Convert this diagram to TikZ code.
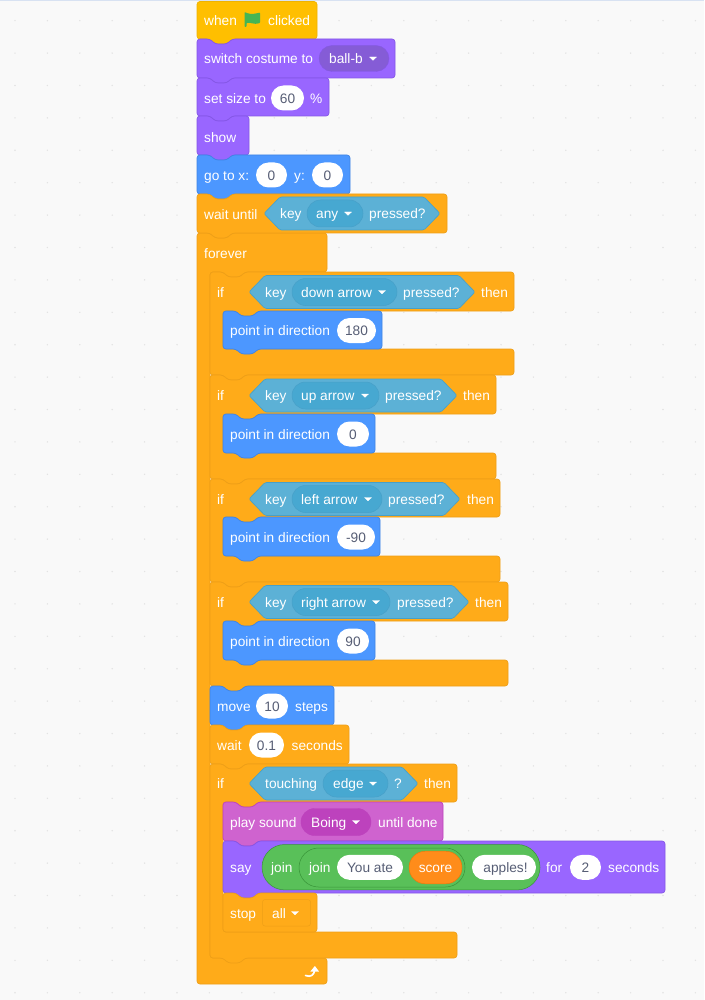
\documentclass[tikz,border=0pt]{standalone}
\usepackage{fontspec}
\setmainfont{Liberation Sans}
\definecolor{bgc}{HTML}{F9F9F9}
\definecolor{dotc}{HTML}{E3E3E3}
\definecolor{topc}{HTML}{D8E2F2}
\definecolor{lookc}{HTML}{9966FF}\definecolor{lookd}{HTML}{8557E6}\definecolor{lookp}{HTML}{855CD6}
\definecolor{motc}{HTML}{4C97FF}\definecolor{motd}{HTML}{3F84E5}
\definecolor{ctlc}{HTML}{FFAB19}\definecolor{ctld}{HTML}{EE9F17}
\definecolor{hatc}{HTML}{FFBF00}\definecolor{hatd}{HTML}{EFB300}
\definecolor{sndc}{HTML}{CF63CF}\definecolor{sndd}{HTML}{BD42BD}
\definecolor{senc}{HTML}{5CB1D6}\definecolor{send}{HTML}{47A0C8}\definecolor{senp}{HTML}{47A8D1}
\definecolor{opc}{HTML}{59C059}\definecolor{opd}{HTML}{389438}
\definecolor{flagc}{HTML}{45B554}
\definecolor{varc}{HTML}{FF8C1A}\definecolor{vard}{HTML}{E87A0C}
\definecolor{inkc}{HTML}{575E75}
\newcounter{tn}
\tikzset{
  x=1pt,y=-1pt,
  blk/.style={draw,line width=.7pt,rounded corners=3pt,line join=round},
  motion/.style={blk,fill=motc,draw=motd},
  looks/.style={blk,fill=lookc,draw=lookd},
  ctrl/.style={blk,fill=ctlc,draw=ctld},
  hatb/.style={blk,fill=hatc,draw=hatd},
  sound/.style={blk,fill=sndc,draw=sndd},
  hexs/.style={draw=send,fill=senc,line width=.6pt,rounded corners=1.5pt},
  txt/.style={inner sep=0pt,text=white,font=\fontsize{13.7}{15}\selectfont},
  itxt/.style={txt,text=inkc},
  whitepill/.style={fill=white,draw=none},
  sensp/.style={fill=senp,draw=send,line width=.5pt},
  arrowtri/.style={fill=white,draw=white,line width=.4pt,line join=round},
}
% label: x, centre y, text
\newcommand\tlabel[3]{\stepcounter{tn}\node[txt,anchor=base west] (t\arabic{tn}) at ({#1},{#2+5.2}) {#3};}
% centred label: x, centre y, style, text
\newcommand\clabel[4]{\stepcounter{tn}\node[#3,anchor=base] (t\arabic{tn}) at ({#1},{#2+5.2}) {#4};}
% stacked block: x1,y1,x2,y2,style
\newcommand\stackb[5]{\draw[#5] (#1,#2) -- ({#1+13},#2) -- ({#1+18},{#2+5}) -- ({#1+30},{#2+5}) -- ({#1+35},#2) -- (#3,#2) -- (#3,#4) -- ({#1+35},#4) -- ({#1+30},{#4+5}) -- ({#1+18},{#4+5}) -- ({#1+13},#4) -- (#1,#4) -- cycle;}
% cap block: no tab under
\newcommand\capb[5]{\draw[#5] (#1,#2) -- ({#1+13},#2) -- ({#1+18},{#2+5}) -- ({#1+30},{#2+5}) -- ({#1+35},#2) -- (#3,#2) -- (#3,#4) -- (#1,#4) -- cycle;}
% C block head and arm and bar with tab: x1,y1,x2,ymouth,ybar,yend,x2 of the bar
\newcommand\cblock[7]{\draw[ctrl] (#1,#2) -- ({#1+13},#2) -- ({#1+18},{#2+5}) -- ({#1+30},{#2+5}) -- ({#1+35},#2) -- (#3,#2) -- (#3,#4)
 -- ({#1+48},#4) -- ({#1+43},{#4+5}) -- ({#1+31},{#4+5}) -- ({#1+26},#4) -- ({#1+13},#4) -- ({#1+13},#5) -- (#7,#5) -- (#7,#6) -- ({#1+35},#6) -- ({#1+30},{#6+5}) -- ({#1+18},{#6+5}) -- ({#1+13},#6) -- (#1,#6) -- cycle;}
% pill: x1,x2,yc,half height,style
\newcommand\pillb[5]{\draw[#5,rounded corners=#4 pt] (#1,{#3-#4}) rectangle (#2,{#3+#4});}
% white input: x1,x2,yc,text
\newcommand\inp[4]{\pillb{#1}{#2}{#3}{12.5}{whitepill}\clabel{(#1+#2)/2}{#3}{itxt}{#4}}
% dropdown triangle
\newcommand\tri[2]{\draw[arrowtri] ({#1-3.5},{#2-1.5}) -- ({#1+3.5},{#2-1.5}) -- (#1,{#2+1.8}) -- cycle;}
% sensing hexagon x1,x2,yc
\newcommand\hexb[3]{\draw[hexs] (#1,#3) -- ({#1+16},{#3-16.5}) -- ({#2-16},{#3-16.5}) -- (#2,#3) -- ({#2-16},{#3+16.5}) -- ({#1+16},{#3+16.5}) -- cycle;}
% key sensing boolean on an if: x2 of hex, yc, pill x2, tri x, menu text, pressed x, then x
\newcommand\keyq[7]{\hexb{249}{#1}{#2}\tlabel{265}{#2}{key}\pillb{292}{#3}{#2}{13.5}{sensp}\tlabel{301}{#2}{#5}\tri{#4}{#2}\tlabel{#6}{#2}{pressed?}\tlabel{#7}{#2}{then}\tlabel{217}{#2}{if}}
% inner point block: x2,y1,y2,pill x2,value
\newcommand\pointb[5]{\stackb{223}{#2}{#1}{#3}{motion}\tlabel{230}{(#2+#3)/2+.5}{point in direction}\inp{337}{#4}{(#2+#3)/2+.5}{#5}}
\begin{document}
\begin{tikzpicture}
\useasboundingbox (0,0) rectangle (704,1000);
\fill[bgc] (0,0) rectangle (704,1000);
\foreach \i in {0,...,21}{\foreach \j in {0,...,30}{
  \fill[dotc] ({15+32.4*\i},{20.7+32.4*\j}) circle (.8);}}
% forever
\draw[ctrl] (197,233) -- (210,233) -- (215,238) -- (227,238) -- (232,233) -- (327,233) -- (327,272) -- (245,272) -- (240,277) -- (228,277) -- (223,272) -- (210,272) -- (210,958) -- (327,958) -- (327,984) -- (197,984) -- cycle;
\tlabel{204}{253}{forever}
\draw[white,line width=1.7pt,line cap=round] (305.5,975.5) .. controls (311,977.5) and (314,975) .. (314.7,970);
\fill[white] (310.3,971.5) -- (314.9,966) -- (319,971.5) -- cycle;
% top stack
\draw[hatb] (197,1.5) -- (317,1.5) -- (317,39) -- (232,39) -- (227,44) -- (215,44) -- (210,39) -- (197,39) -- cycle;
\fill[topc] (0,0) rectangle (704,1.5);
\tlabel{204}{20}{when}
\fill[flagc,rounded corners=.8pt] (244.5,12) .. controls (248,13.5) and (251,15) .. (260,12.5) -- (260,23) .. controls (254,25) and (250,22) .. (246.5,23) -- (246.5,27) -- (244.5,27) -- cycle;
\tlabel{268}{20}{clicked}
\stackb{197}{39}{395}{78}{looks}
\tlabel{204}{58.5}{switch costume to}
\pillb{319}{389}{58.5}{13}{fill=lookp,draw=lookd,line width=.4pt}
\tlabel{329}{58.5}{ball-b}\tri{373}{58.5}
\stackb{197}{78}{329}{116}{looks}
\tlabel{204}{98}{set size to}\inp{271}{304}{98}{60}\tlabel{310}{98}{\%}
\stackb{197}{116}{249}{155}{looks}
\tlabel{204}{137}{show}
\stackb{197}{155}{350}{194}{motion}
\tlabel{204}{175}{go to x:}\inp{256}{287}{175}{0}\tlabel{294}{175}{y:}\inp{312}{343}{175}{0}
\stackb{197}{194}{447}{233}{ctrl}
\tlabel{204}{214}{wait until}
\hexb{264}{440}{213.5}\tlabel{280}{213.5}{key}\pillb{307}{363}{213.5}{13.5}{sensp}\tlabel{316}{213.5}{any}\tri{348}{213.5}\tlabel{369}{213.5}{pressed?}
% if 1
\cblock{210}{272}{514}{311}{349}{375}{514}
\keyq{475}{292}{397}{382}{down arrow}{403}{481}
\pointb{382}{311}{349}{376}{180}
% if 2
\cblock{210}{375}{496}{414}{453}{479}{496}
\keyq{457}{395.5}{379}{365}{up arrow}{385}{463}
\pointb{375}{414}{453}{369}{0}
% if 3
\cblock{210}{479}{500}{517}{556}{582}{500}
\keyq{460}{499}{382}{368}{left arrow}{388}{467}
\pointb{380}{517}{556}{375}{-90}
% if 4
\cblock{210}{582}{508}{621}{660}{686}{508}
\keyq{469}{602}{390}{376}{right arrow}{397}{475}
\pointb{375}{621}{660}{369}{90}
% move, wait
\stackb{210}{686}{334}{725}{motion}
\tlabel{217}{706}{move}\inp{256}{288}{706}{10}\tlabel{295}{706}{steps}
\stackb{210}{725}{349}{764}{ctrl}
\tlabel{217}{745}{wait}\inp{249}{284}{745}{0.1}\tlabel{291.5}{745}{seconds}
% if 5
\cblock{210}{764}{457}{802}{932}{958}{457}
\hexb{249}{418}{783.5}\tlabel{265}{783.5}{touching}\pillb{323}{388}{783.5}{13.5}{sensp}\tlabel{333}{783.5}{edge}\tri{373}{783.5}\tlabel{394}{783.5}{?}\tlabel{424}{783.5}{then}\tlabel{217}{783.5}{if}
% play sound
\stackb{223}{802}{443}{841}{sound}
\tlabel{230}{822}{play sound}\pillb{301}{371}{822}{13.5}{fill=sndd,draw=sndd}\tlabel{311}{822}{Boing}\tri{356}{822}\tlabel{378}{822}{until done}
% say
\stackb{223}{841}{665}{893}{looks}
\tlabel{230}{867.7}{say}
\pillb{262}{540}{867.2}{22.7}{fill=opc,draw=opd,line width=.5pt}
\tlabel{271}{867.7}{join}
\pillb{299}{465}{867.5}{19.5}{fill=opc,draw=opd,line width=.5pt}
\tlabel{309}{867.7}{join}
\inp{337}{403}{867.3}{You ate}
\pillb{409}{462}{867.5}{16.3}{fill=varc,draw=vard,line width=.5pt}
\clabel{435.5}{867.7}{txt}{score}
\pillb{472}{536}{867.3}{12.5}{whitepill}\clabel{505.5}{867.3}{itxt}{apples!}
\tlabel{546}{867.7}{for}\inp{570}{601}{867.3}{2}\tlabel{608}{867.7}{seconds}
% stop
\capb{223}{893}{317}{932}{ctrl}
\tlabel{230}{913}{stop}
\draw[draw=ctld,fill=ctlc,line width=.5pt,rounded corners=2.5pt] (262.5,899.5) rectangle (310.5,926);
\tlabel{272}{913}{all}\tri{295}{913}
\end{tikzpicture}
\end{document}
